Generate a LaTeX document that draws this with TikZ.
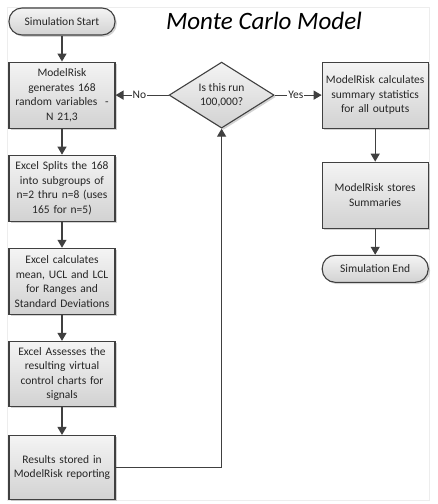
\documentclass[tikz,border=0pt]{standalone}
\usepackage{fontspec}
\setmainfont{Carlito}
\usepackage{tikz}
\usetikzlibrary{shapes.geometric,arrows.meta,positioning,shadows}
\definecolor{flowline}{HTML}{404040}
\definecolor{boxtop}{HTML}{F4F4F4}
\definecolor{boxbot}{HTML}{D2D2D2}
\definecolor{framegray}{HTML}{EDEDED}
\tikzset{
  process/.style={rectangle,minimum width=106pt,minimum height=66pt,inner sep=1pt,
    draw=flowline,top color=boxtop,bottom color=boxbot,text=black!85,
    font=\fontsize{11.5}{14.5}\selectfont,text width=104pt,align=center,line width=1.1pt,
    drop shadow={shadow xshift=1.8pt,shadow yshift=-1.8pt,opacity=0.35}},
  terminal/.style={rectangle,rounded corners=13pt,minimum width=106pt,minimum height=27pt,
    draw=flowline,top color=boxtop,bottom color=boxbot,text=black!85,
    font=\fontsize{11.5}{14.5}\selectfont,align=center,line width=1.1pt,
    drop shadow={shadow xshift=1.8pt,shadow yshift=-1.8pt,opacity=0.35}},
  decision/.style={diamond,minimum width=105pt,minimum height=66pt,inner sep=0pt,aspect=1.6,
    draw=flowline,top color=boxtop,bottom color=boxbot,text=black!85,
    font=\fontsize{11.5}{14.5}\selectfont,align=center,line width=1.1pt,
    drop shadow={shadow xshift=1.8pt,shadow yshift=-1.8pt,opacity=0.35}},
  myarrow/.style={-{Triangle[length=8pt,width=9pt]},line width=1.2pt,draw=flowline},
  arrlabel/.style={font=\fontsize{11.5}{12}\selectfont,fill=white,inner sep=1pt,text=black!85},
}
\begin{document}
\begin{tikzpicture}[x=1pt,y=-1pt,node distance=26pt]
  \useasboundingbox (0,0) rectangle (437,504);
  \draw[framegray,line width=0.8pt] (7,7) rectangle (429,500);
  \node[anchor=base,font=\fontsize{25}{28}\selectfont\itshape] (title) at (264,29) {Monte Carlo Model};
  \node[terminal] (start) at (62,21.5) {Simulation Start};
  \node[process,below=26pt of start] (gen) {ModelRisk\\generates 168\\random variables\ \ -\\N 21,3};
  \node[process,below=26pt of gen] (split) {Excel Splits the 168\\into subgroups of\\n=2 thru n=8 (uses\\165 for n=5)};
  \node[process,below=26pt of split] (calc) {Excel calculates\\mean, UCL and LCL\\for Ranges and\\Standard Deviations};
  \node[process,below=26pt of calc,minimum height=65pt] (assess) {Excel Assesses the\\resulting virtual\\control charts for\\signals};
  \node[process,below=28pt of assess,minimum height=64pt] (store) {Results stored in\\ModelRisk reporting};
  \node[decision,right=53pt of gen] (check) {Is this run\\100,000?};
  \node[process,right=47pt of check] (summ) {ModelRisk calculates\\summary statistics\\for all outputs};
  \node[process,below=33pt of summ] (keep) {ModelRisk stores\\Summaries};
  \node[terminal,below=26pt of keep] (stop) {Simulation End};
  \draw[myarrow] (start) -- (gen);
  \draw[myarrow] (gen) -- (split);
  \draw[myarrow] (split) -- (calc);
  \draw[myarrow] (calc) -- (assess);
  \draw[myarrow] (assess) -- (store);
  \draw[myarrow] (store) -| (check);
  \draw[myarrow] (check) -- (gen) node[arrlabel,pos=0.55] {No};
  \draw[myarrow] (check) -- (summ) node[arrlabel,pos=0.45] {Yes};
  \draw[myarrow] (summ) -- (keep);
  \draw[myarrow] (keep) -- (stop);
\end{tikzpicture}
\end{document}
